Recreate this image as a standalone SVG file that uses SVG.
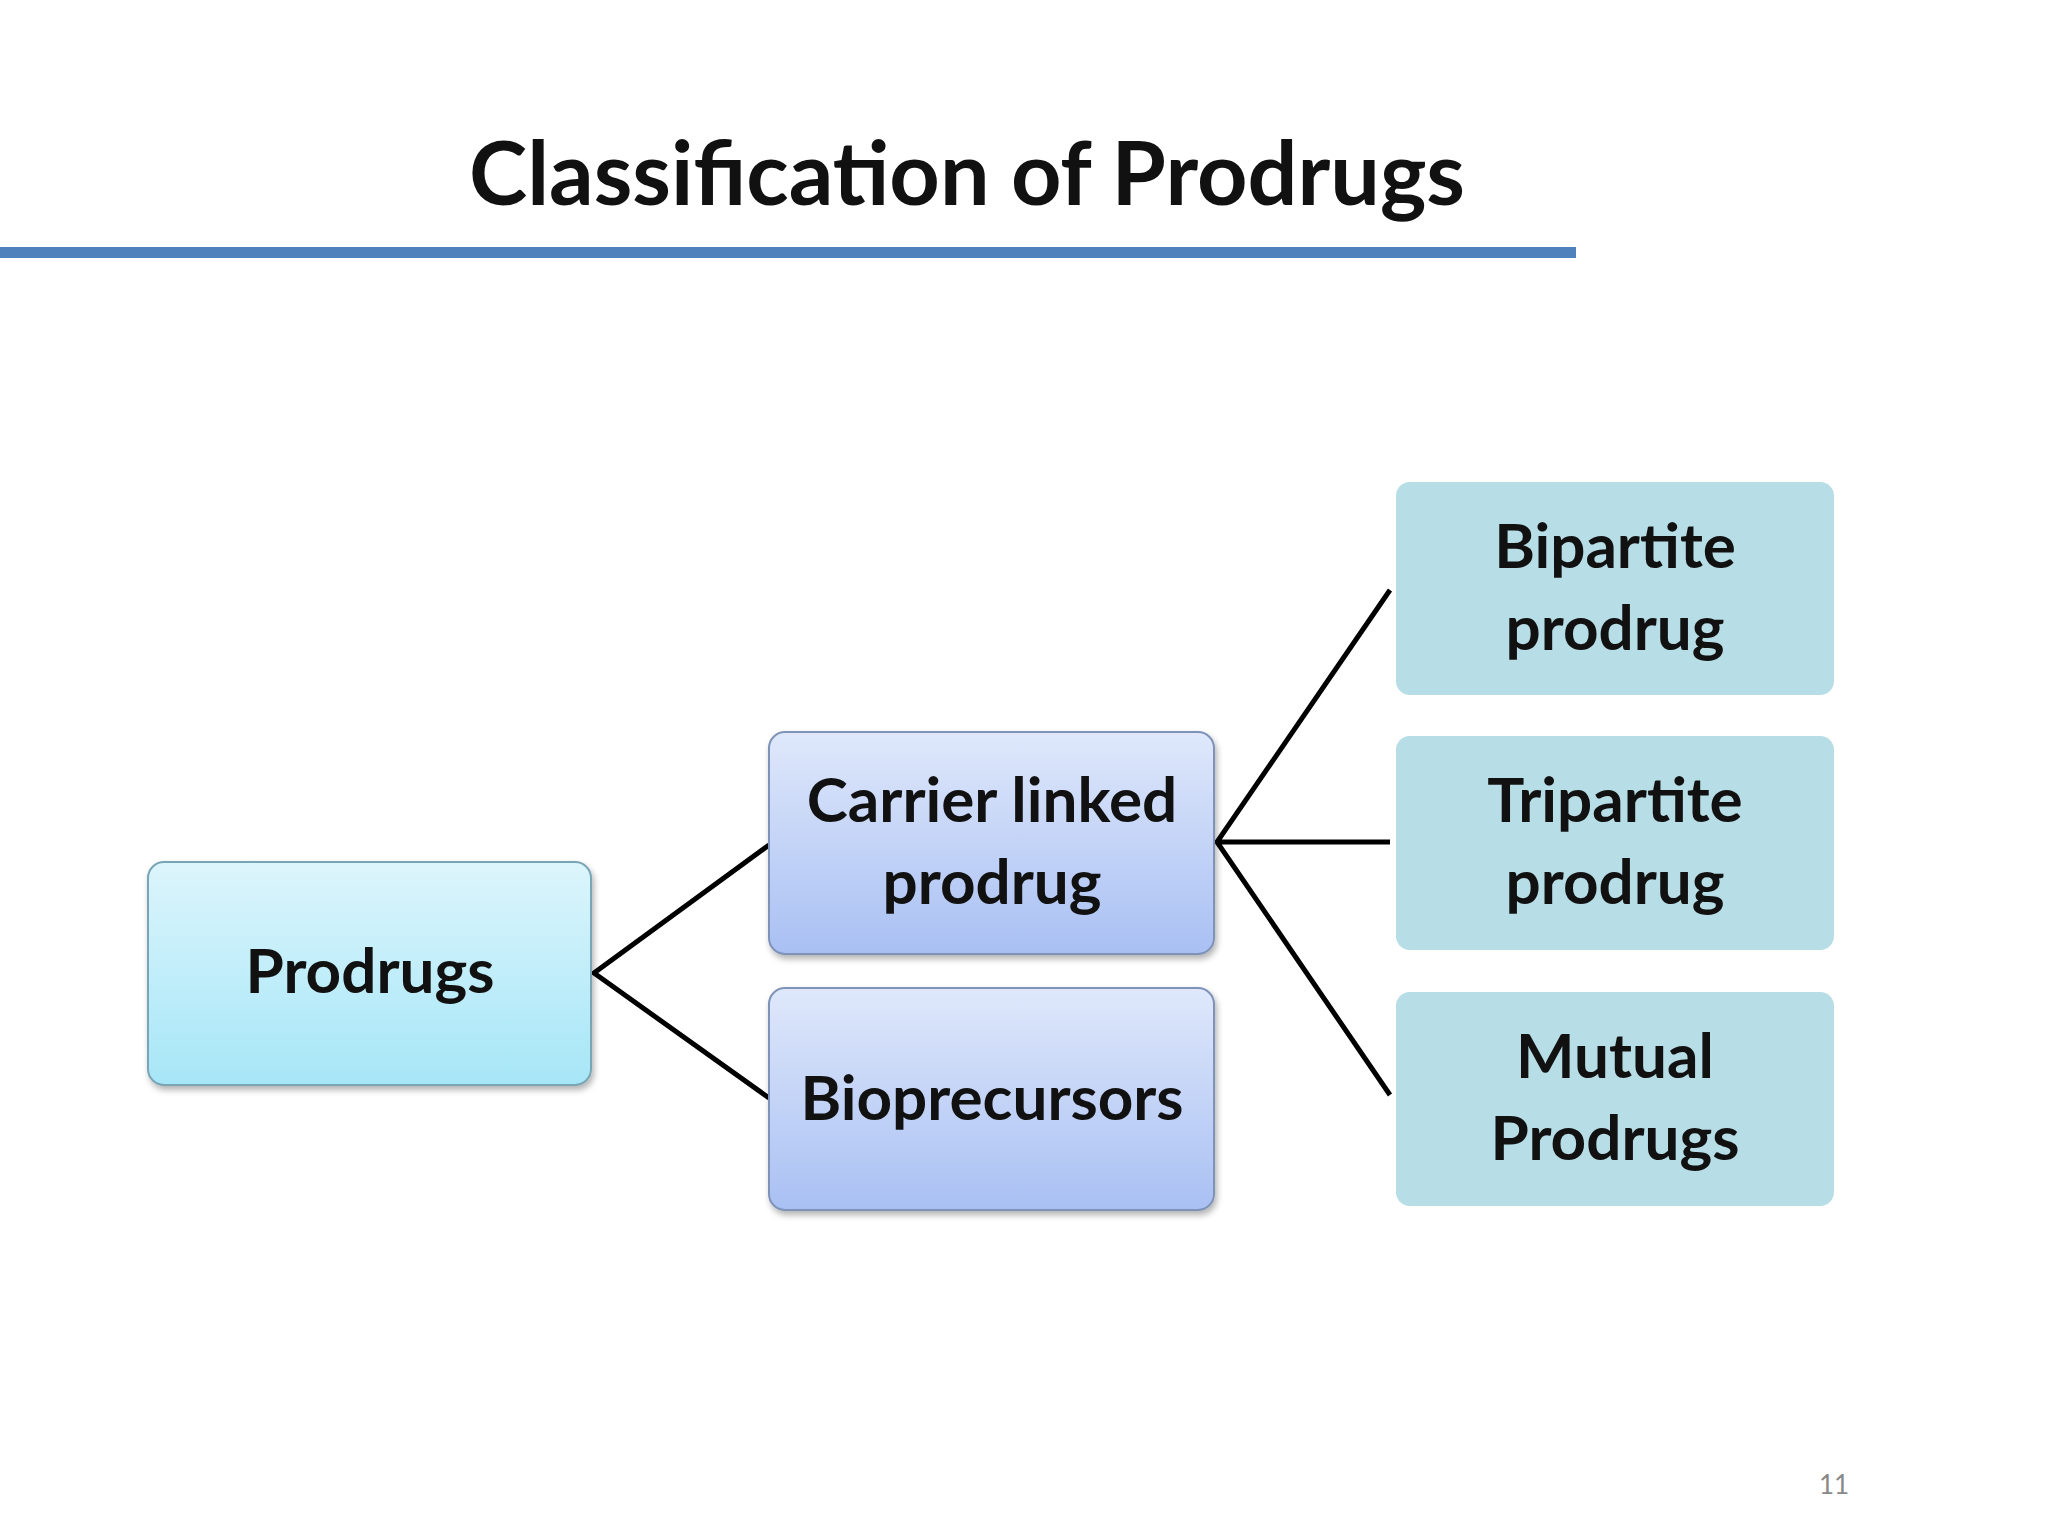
<svg xmlns="http://www.w3.org/2000/svg" width="2048" height="1536" viewBox="0 0 2048 1536">
<defs>
<linearGradient id="gA" x1="0" y1="0" x2="0" y2="1"><stop offset="0" stop-color="#dcf5fc"/><stop offset="1" stop-color="#a6e6f7"/></linearGradient>
<linearGradient id="gB" x1="0" y1="0" x2="0" y2="1"><stop offset="0" stop-color="#dfe8fb"/><stop offset="1" stop-color="#a9c0f3"/></linearGradient>
<filter id="sh" x="-10%" y="-10%" width="130%" height="130%"><feDropShadow dx="2" dy="4" stdDeviation="3" flood-color="#000" flood-opacity="0.3"/></filter>
</defs>
<style>
text{font-family:Lato,"Open Sans","Liberation Sans",sans-serif;font-weight:bold;fill:#111;text-anchor:middle}
.n{font-size:62px}
.b1{fill:url(#gA);stroke:#7aa5b5;stroke-width:2;filter:url(#sh)}
.b2{fill:url(#gB);stroke:#7f93b8;stroke-width:2;filter:url(#sh)}
.b3{fill:#b7dde6}
.c{stroke:#000;stroke-width:5;fill:none}
</style>
<rect width="2048" height="1536" fill="#fff"/>
<text x="967" y="205" style="font-size:88px">Classification of Prodrugs</text>
<rect x="0" y="247" width="1576" height="11" fill="#4f81bd"/>
<g id="connectors">
<path class="c" d="M769 845L594 973L769 1098"/>
<path class="c" d="M1390 590L1217 842L1390 1095M1217 842H1390"/>
</g>
<g id="prodrugs"><rect class="b1" x="148" y="862" width="443" height="223" rx="16"/><text class="n" x="370" y="993">Prodrugs</text></g>
<g id="carrier"><rect class="b2" x="769" y="732" width="445" height="222" rx="16"/><text class="n" x="992" y="822">Carrier linked</text><text class="n" x="992" y="904">prodrug</text></g>
<g id="bioprecursors"><rect class="b2" x="769" y="988" width="445" height="222" rx="16"/><text class="n" x="992" y="1120">Bioprecursors</text></g>
<g id="bipartite"><rect class="b3" x="1396" y="482" width="438" height="213" rx="14"/><text class="n" x="1615" y="568">Bipartite</text><text class="n" x="1615" y="650">prodrug</text></g>
<g id="tripartite"><rect class="b3" x="1396" y="736" width="438" height="214" rx="14"/><text class="n" x="1615" y="822">Tripartite</text><text class="n" x="1615" y="904">prodrug</text></g>
<g id="mutual"><rect class="b3" x="1396" y="992" width="438" height="214" rx="14"/><text class="n" x="1615" y="1078">Mutual</text><text class="n" x="1615" y="1160">Prodrugs</text></g>
<text x="1834" y="1494" style="font-size:26px;font-weight:normal;fill:#888">11</text>
</svg>
